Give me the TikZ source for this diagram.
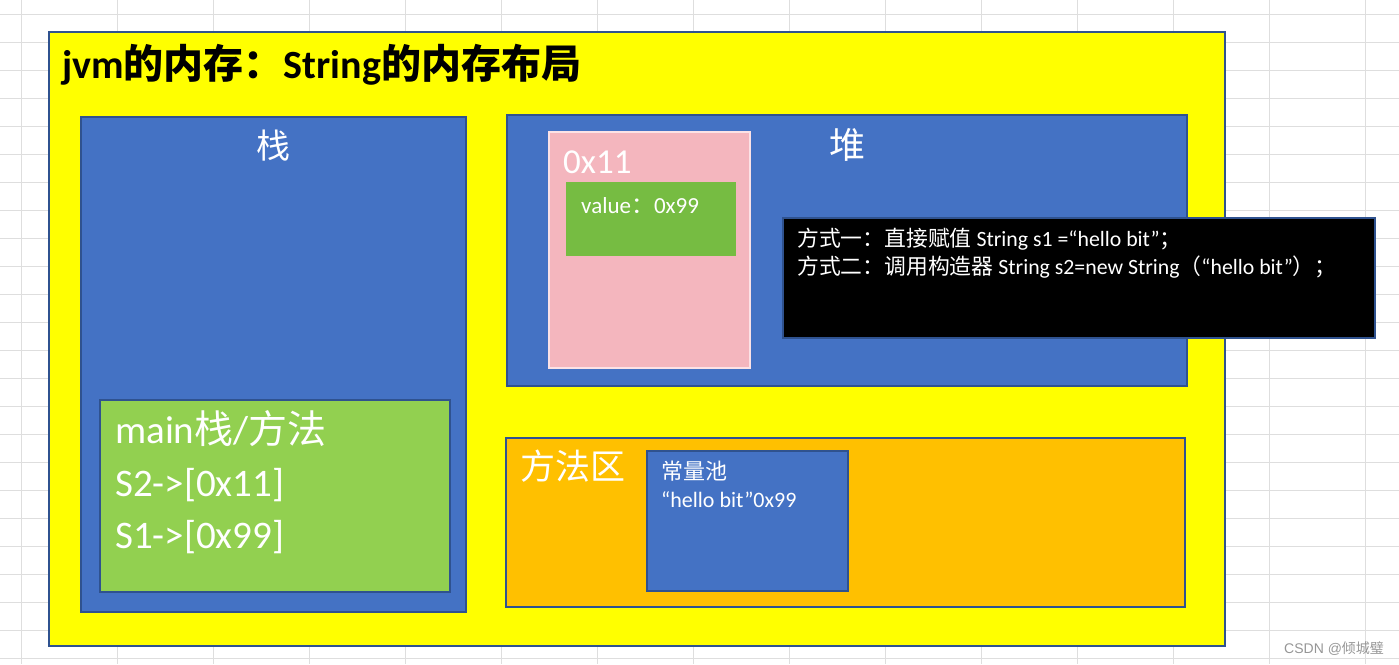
\documentclass[tikz,border=0pt]{standalone}
\usepackage{fontspec}
\setmainfont{Carlito}
\newfontfamily\chino{Noto Sans CJK SC}
\newfontfamily\marca{Liberation Sans}
\usetikzlibrary{positioning}
\definecolor{AzulBorde}{RGB}{47,82,143}
\definecolor{AzulCaja}{RGB}{68,114,196}
\definecolor{Amarillo}{RGB}{255,255,0}
\definecolor{RosaObjeto}{RGB}{244,182,190}
\definecolor{RosaBorde}{RGB}{252,226,230}
\definecolor{VerdeValor}{RGB}{118,188,66}
\definecolor{VerdeMain}{RGB}{146,208,80}
\definecolor{NaranjaMetodo}{RGB}{255,192,0}
\definecolor{GrisRejilla}{RGB}{222,222,222}
\definecolor{GrisMarca}{RGB}{150,150,150}
\newcommand{\zh}[1]{{\chino #1}}
\newcommand{\letra}[1]{\fontsize{#1}{#1}\selectfont}

\begin{document}
\begin{tikzpicture}[
  x=1pt, y=-1pt,
  rejilla/.style={draw=GrisRejilla, line width=1pt},
  caja/.style={draw=AzulBorde, line width=2.2pt, anchor=north west, inner sep=0pt, outer sep=0pt},
  blanco/.style={text=white, inner sep=0pt, anchor=base west},
  rotulo/.style={text=white, inner sep=0pt, font=\chino},
]
\useasboundingbox (0,0) rectangle (1399,664);

% --- Rejilla de la hoja ---
\foreach \y in {14,42,...,658} \draw[rejilla] (0,\y) -- (1399,\y);
\foreach \x in {21,117,...,1365} \draw[rejilla] (\x,0) -- (\x,664);

% --- Marco general ---
\node[caja, fill=Amarillo, minimum width=1176pt, minimum height=614pt] (jvm) at (49,32) {};
\node[anchor=base west, inner sep=0pt, font=\bfseries\letra{40}] (titulo) at (62,78)
  {jvm\zh{的内存：}String\zh{的内存布局}};

% --- Pila ---
\node[caja, fill=AzulCaja, minimum width=385pt, minimum height=495pt] (pila) at (81,117) {};
\node[rotulo, font=\chino\letra{34}] (pilatxt) at (273,146) {栈};
\node[caja, fill=VerdeMain, minimum width=350pt, minimum height=192pt] (main) at (100,400) {};
\node[blanco, font=\letra{39}] (maintxt) at (115,443) {main\zh{栈}/\zh{方法}};
\node[blanco, font=\letra{39}] (s2) at (115,496) {S2->[0x11]};
\node[blanco, font=\letra{39}] (s1) at (115,548) {S1->[0x99]};

% --- Monton ---
\node[caja, fill=AzulCaja, minimum width=680pt, minimum height=271pt] (monton) at (507,115) {};
\node[rotulo, font=\chino\letra{36}] (montontxt) at (847,145) {堆};
\node[caja, draw=RosaBorde, fill=RosaObjeto, minimum width=201pt, minimum height=236pt] (objeto) at (549,132) {};
\node[blanco, font=\letra{35}] (dir) at (563,173) {0x11};
\node[caja, draw=none, fill=VerdeValor, minimum width=170pt, minimum height=74pt] (valor) at (566,182) {};
\node[blanco, font=\letra{23}] (valortxt) at (581,213) {value\zh{：}0x99};

% --- Nota en negro ---
\node[caja, fill=black, minimum width=592pt, minimum height=120pt] (nota) at (783,218) {};
\node[blanco, font=\letra{21.8}] (modo1) at (797,246)
  {\zh{方式一：直接赋值} String s1 =“hello bit”\zh{；}};
\node[blanco, font=\letra{21.8}] (modo2) at (797,274)
  {\zh{方式二：调用构造器} String s2=new String\zh{（}“hello bit”\zh{）；}};

% --- Area de metodos ---
\node[caja, fill=NaranjaMetodo, minimum width=679pt, minimum height=169pt] (metodo) at (506,438) {};
\node[rotulo, anchor=west, font=\chino\letra{35}] (metodotxt) at (520,466) {方法区};
\node[caja, fill=AzulCaja, minimum width=201pt, minimum height=140pt] (pool) at (647,451) {};
\node[rotulo, anchor=west, font=\chino\letra{22}] (pooltxt) at (661,471) {常量池};
\node[blanco, font=\letra{22}] (cadena) at (661,507) {“hello bit”0x99};

% --- Firma ---
\node[anchor=base west, inner sep=0pt, text=GrisMarca, font=\marca\letra{14}] (firma) at (1284,653)
  {CSDN @\zh{倾城璧}};
\end{tikzpicture}
\end{document}
